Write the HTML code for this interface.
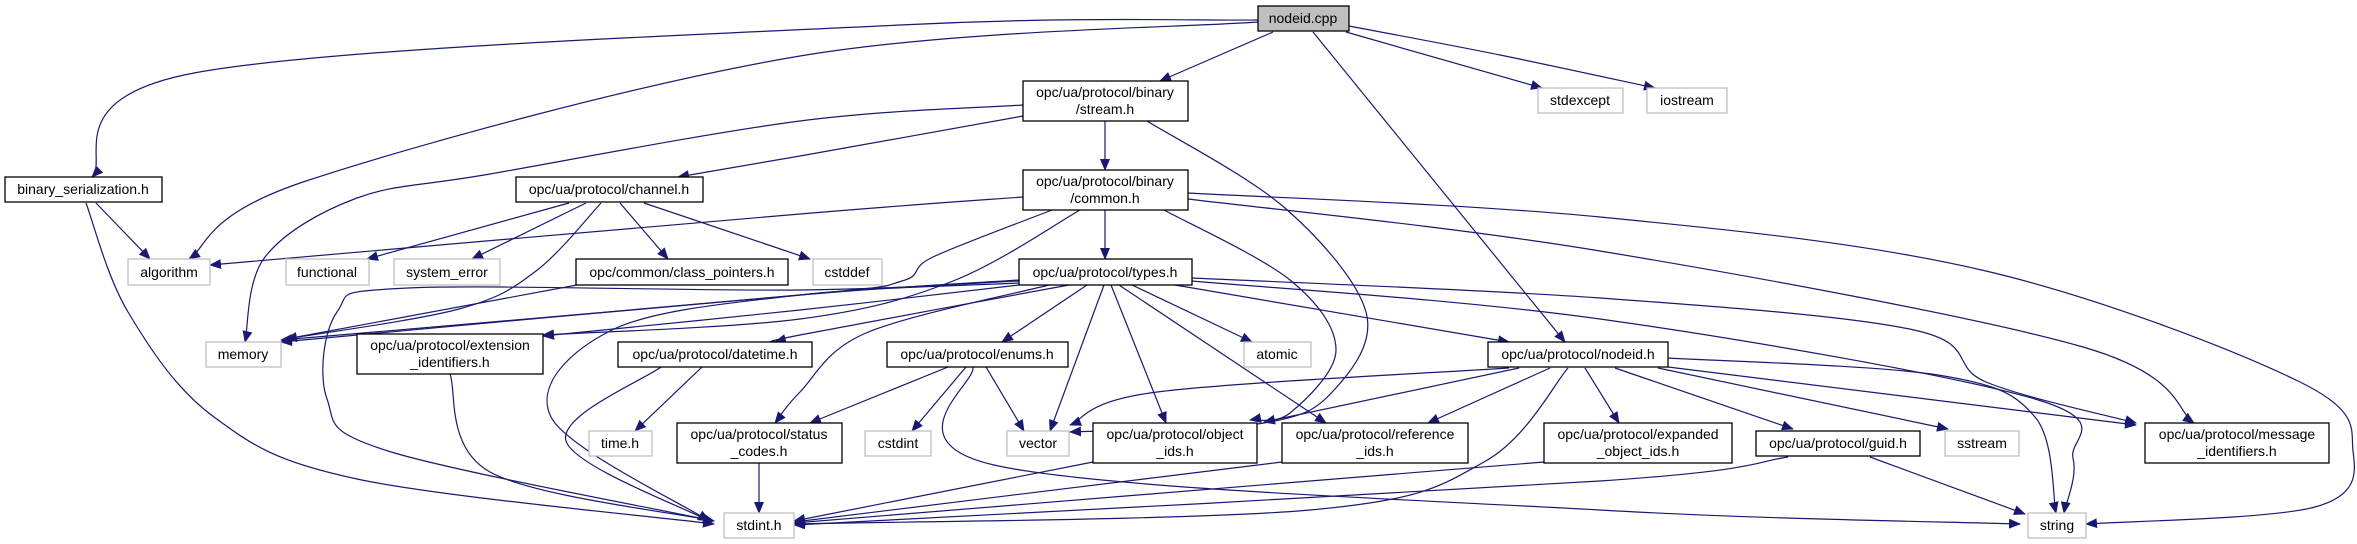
<!DOCTYPE html>
<html><head><meta charset="utf-8"><style>
html,body{margin:0;padding:0;background:#fff;}
svg{display:block;}
text{font-family:"Liberation Sans",sans-serif;font-size:14px;fill:#000;}
</style></head><body>
<svg id="g" width="2357" height="544" viewBox="0 0 2357 544" xmlns="http://www.w3.org/2000/svg">
<defs><marker id="a" markerWidth="12" markerHeight="10" refX="11" refY="5" orient="auto" markerUnits="userSpaceOnUse"><path d="M0,0 L12,5 L0,10 z" fill="#191970"/></marker></defs>
<g id="edges" fill="none" stroke="#191970" stroke-width="1.2"></g>
<g id="nodes" stroke-width="1.3">
<rect x="1258" y="6" width="91" height="25" fill="#bfbfbf" stroke="#000"/><text x="1303" y="23" text-anchor="middle">nodeid.cpp</text>
<rect x="1023" y="81" width="165" height="40" fill="#fff" stroke="#000"/><text x="1105" y="97" text-anchor="middle">opc/ua/protocol/binary</text><text x="1105" y="114" text-anchor="middle">/stream.h</text>
<rect x="1538" y="88" width="85" height="25" fill="#fff" stroke="#bfbfbf"/><text x="1580" y="105" text-anchor="middle">stdexcept</text>
<rect x="1647" y="88" width="80" height="25" fill="#fff" stroke="#bfbfbf"/><text x="1687" y="105" text-anchor="middle">iostream</text>
<rect x="5" y="177" width="157" height="25" fill="#fff" stroke="#000"/><text x="83" y="194" text-anchor="middle">binary_serialization.h</text>
<rect x="516" y="177" width="187" height="25" fill="#fff" stroke="#000"/><text x="609" y="194" text-anchor="middle">opc/ua/protocol/channel.h</text>
<rect x="1023" y="170" width="165" height="40" fill="#fff" stroke="#000"/><text x="1105" y="186" text-anchor="middle">opc/ua/protocol/binary</text><text x="1105" y="203" text-anchor="middle">/common.h</text>
<rect x="128" y="259" width="82" height="26" fill="#fff" stroke="#bfbfbf"/><text x="169" y="277" text-anchor="middle">algorithm</text>
<rect x="286" y="259" width="83" height="26" fill="#fff" stroke="#bfbfbf"/><text x="327" y="277" text-anchor="middle">functional</text>
<rect x="394" y="259" width="106" height="26" fill="#fff" stroke="#bfbfbf"/><text x="447" y="277" text-anchor="middle">system_error</text>
<rect x="576" y="259" width="212" height="26" fill="#fff" stroke="#000"/><text x="682" y="277" text-anchor="middle">opc/common/class_pointers.h</text>
<rect x="813" y="259" width="69" height="26" fill="#fff" stroke="#bfbfbf"/><text x="847" y="277" text-anchor="middle">cstddef</text>
<rect x="1019" y="259" width="173" height="26" fill="#fff" stroke="#000"/><text x="1105" y="277" text-anchor="middle">opc/ua/protocol/types.h</text>
<rect x="206" y="342" width="75" height="25" fill="#fff" stroke="#bfbfbf"/><text x="243" y="359" text-anchor="middle">memory</text>
<rect x="357" y="334" width="186" height="40" fill="#fff" stroke="#000"/><text x="450" y="350" text-anchor="middle">opc/ua/protocol/extension</text><text x="450" y="367" text-anchor="middle">_identifiers.h</text>
<rect x="618" y="342" width="194" height="25" fill="#fff" stroke="#000"/><text x="715" y="359" text-anchor="middle">opc/ua/protocol/datetime.h</text>
<rect x="887" y="342" width="181" height="25" fill="#fff" stroke="#000"/><text x="977" y="359" text-anchor="middle">opc/ua/protocol/enums.h</text>
<rect x="1244" y="342" width="67" height="25" fill="#fff" stroke="#bfbfbf"/><text x="1277" y="359" text-anchor="middle">atomic</text>
<rect x="1488" y="342" width="180" height="25" fill="#fff" stroke="#000"/><text x="1578" y="359" text-anchor="middle">opc/ua/protocol/nodeid.h</text>
<rect x="589" y="431" width="63" height="25" fill="#fff" stroke="#bfbfbf"/><text x="620" y="448" text-anchor="middle">time.h</text>
<rect x="677" y="423" width="165" height="40" fill="#fff" stroke="#000"/><text x="759" y="439" text-anchor="middle">opc/ua/protocol/status</text><text x="759" y="456" text-anchor="middle">_codes.h</text>
<rect x="865" y="431" width="66" height="25" fill="#fff" stroke="#bfbfbf"/><text x="898" y="448" text-anchor="middle">cstdint</text>
<rect x="1007" y="431" width="62" height="25" fill="#fff" stroke="#bfbfbf"/><text x="1038" y="448" text-anchor="middle">vector</text>
<rect x="1093" y="423" width="164" height="40" fill="#fff" stroke="#000"/><text x="1175" y="439" text-anchor="middle">opc/ua/protocol/object</text><text x="1175" y="456" text-anchor="middle">_ids.h</text>
<rect x="1282" y="423" width="186" height="40" fill="#fff" stroke="#000"/><text x="1375" y="439" text-anchor="middle">opc/ua/protocol/reference</text><text x="1375" y="456" text-anchor="middle">_ids.h</text>
<rect x="1544" y="423" width="188" height="40" fill="#fff" stroke="#000"/><text x="1638" y="439" text-anchor="middle">opc/ua/protocol/expanded</text><text x="1638" y="456" text-anchor="middle">_object_ids.h</text>
<rect x="1756" y="431" width="164" height="25" fill="#fff" stroke="#000"/><text x="1838" y="448" text-anchor="middle">opc/ua/protocol/guid.h</text>
<rect x="1945" y="431" width="74" height="25" fill="#fff" stroke="#bfbfbf"/><text x="1982" y="448" text-anchor="middle">sstream</text>
<rect x="2145" y="423" width="184" height="40" fill="#fff" stroke="#000"/><text x="2237" y="439" text-anchor="middle">opc/ua/protocol/message</text><text x="2237" y="456" text-anchor="middle">_identifiers.h</text>
<rect x="724" y="513" width="70" height="25" fill="#fff" stroke="#bfbfbf"/><text x="759" y="530" text-anchor="middle">stdint.h</text>
<rect x="2028" y="513" width="58" height="25" fill="#fff" stroke="#bfbfbf"/><text x="2057" y="530" text-anchor="middle">string</text>
</g>
</svg>
<script>
var E=[
[[1258,20],[900,25],[194,73],[92,177]],
[[1258,22],[800,56],[306,181],[189,259]],
[[1273,32],[1160,81]],
[[1346,32],[1542,88]],
[[1349,26],[1500,55],[1655,88]],
[[1313,32],[1565,342]],
[[1023,116],[800,156],[678,177]],
[[1023,105],[800,121],[490,174],[357,198],[265,257],[245,342]],
[[1105,121],[1105,170]],
[[1147,121],[1285,208],[1366,312],[1335,389],[1264,423],[1070,432]],
[[1164,210],[1290,280],[1336,350],[1290,413],[1250,420]],
[[1023,197],[800,214],[210,265]],
[[1052,210],[933,257],[902,281],[800,295],[281,340]],
[[1080,210],[953,281],[800,319],[543,335]],
[[1105,210],[1105,259]],
[[1188,199],[1600,251],[2083,347],[2194,423]],
[[1188,193],[1600,217],[1986,271],[2300,382],[2353,451],[2315,507],[2086,524]],
[[1019,280],[800,295],[281,342]],
[[1019,285],[800,310],[543,336]],
[[1069,285],[800,335],[775,342]],
[[1087,285],[1002,342]],
[[1049,285],[866,333],[800,392],[775,423]],
[[1019,283],[800,295],[612,330],[551,417],[709,521]],
[[1019,281],[800,290],[408,288],[337,312],[327,399],[388,451],[714,521]],
[[1104,285],[1050,431]],
[[1111,285],[1166,423]],
[[1119,285],[1326,423]],
[[1132,285],[1252,342]],
[[1175,285],[1509,342]],
[[1192,278],[1600,298],[1914,330],[1986,382],[2136,423]],
[[1192,281],[1600,319],[2035,399],[2073,458],[2064,513]],
[[1509,368],[1157,392],[1070,425]],
[[1519,368],[1264,422]],
[[1550,368],[1428,423]],
[[1585,368],[1619,423]],
[[1615,368],[1793,429]],
[[1658,368],[1948,429]],
[[1668,367],[2136,425]],
[[1668,358],[1938,375],[2035,417],[2056,513]],
[[1568,368],[1484,462],[1310,510],[794,524]],
[[569,203],[367,259]],
[[586,203],[472,259]],
[[620,203],[668,259]],
[[644,203],[810,259]],
[[601,203],[536,271],[459,309],[286,339]],
[[96,203],[150,259]],
[[86,203],[128,312],[214,417],[357,479],[714,524]],
[[577,285],[286,339]],
[[450,374],[490,472],[714,521]],
[[702,367],[635,431]],
[[661,367],[566,441],[709,521]],
[[759,463],[759,513]],
[[948,367],[810,423]],
[[966,367],[912,431]],
[[986,367],[1024,431]],
[[973,367],[994,465],[1600,510],[2020,524]],
[[1093,462],[794,521]],
[[1282,462],[794,522]],
[[1544,462],[794,523]],
[[1788,457],[1600,481],[794,525]],
[[1870,457],[2025,514]]
];
var g=document.getElementById('edges'),ns='http://www.w3.org/2000/svg';
E.forEach(function(p){
 var d='M'+p[0][0]+','+p[0][1];
 if(p.length==2){d+=' L'+p[1][0]+','+p[1][1];}
 else for(var i=0;i<p.length-1;i++){
  var p0=p[i-1]||p[i],p1=p[i],p2=p[i+1],p3=p[i+2]||p[i+1];
  var c1=[p1[0]+(p2[0]-p0[0])/6,p1[1]+(p2[1]-p0[1])/6],c2=[p2[0]-(p3[0]-p1[0])/6,p2[1]-(p3[1]-p1[1])/6];
  d+=' C'+c1[0]+','+c1[1]+' '+c2[0]+','+c2[1]+' '+p2[0]+','+p2[1];
 }
 var e=document.createElementNS(ns,'path');e.setAttribute('d',d);e.setAttribute('marker-end','url(#a)');g.appendChild(e);
});
</script>
</body></html>
